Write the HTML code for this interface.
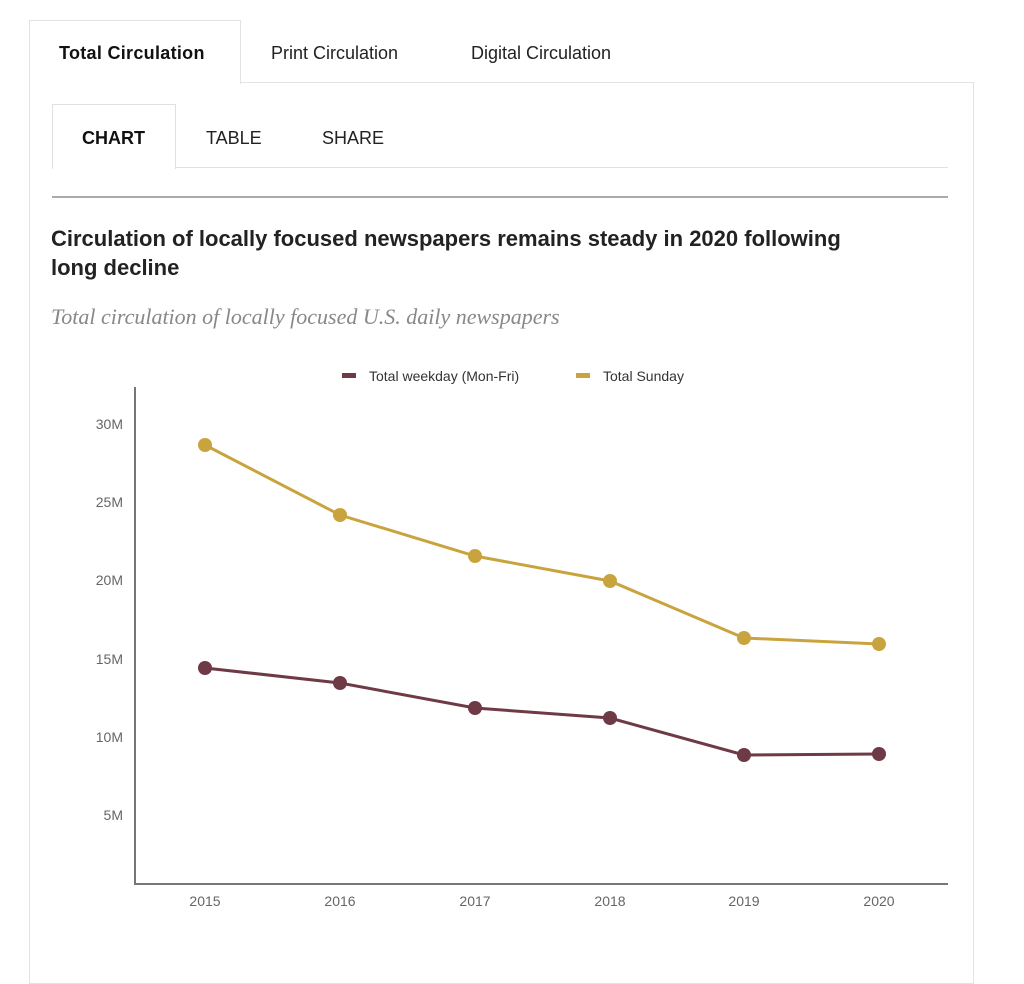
<!DOCTYPE html>
<html><head><meta charset="utf-8"><style>
body{margin:0;width:1024px;height:957px;background:#fff;font-family:"Liberation Sans",sans-serif;position:relative;overflow:hidden}
.a{position:absolute}
</style></head><body>
<div class="a" style="left:29px;top:82px;width:943px;height:900px;border:1px solid #e3e3e3"></div>
<div class="a" style="left:29px;top:20px;width:210px;height:63px;border:1px solid #e3e3e3;border-bottom:none;background:#fff"></div>
<div class="a" style="left:59px;top:43px;font-size:18px;font-weight:bold;color:#111;letter-spacing:0.3px">Total Circulation</div>
<div class="a" style="left:271px;top:43px;font-size:18px;color:#222">Print Circulation</div>
<div class="a" style="left:471px;top:43px;font-size:18px;color:#222">Digital Circulation</div>
<div class="a" style="left:52px;top:167px;width:896px;border-top:1px solid #e0e0e0"></div>
<div class="a" style="left:52px;top:104px;width:122px;height:64px;border:1px solid #e0e0e0;border-bottom:none;background:#fff"></div>
<div class="a" style="left:82px;top:128px;font-size:18px;font-weight:bold;color:#111">CHART</div>
<div class="a" style="left:206px;top:128px;font-size:18px;color:#222">TABLE</div>
<div class="a" style="left:322px;top:128px;font-size:18px;color:#222">SHARE</div>
<div class="a" style="left:52px;top:196px;width:896px;border-top:2px solid #aaa"></div>
<div class="a" style="left:51px;top:224px;width:830px;font-size:22px;font-weight:bold;color:#222;line-height:29px">Circulation of locally focused newspapers remains steady in 2020 following long decline</div>
<div class="a" style="left:51px;top:304px;font-family:'Liberation Serif',serif;font-style:italic;font-size:22px;color:#888">Total circulation of locally focused U.S. daily newspapers</div>
<svg class="a" style="left:0;top:0" width="1024" height="957" font-family="Liberation Sans, sans-serif">
<rect x="342" y="373" width="14" height="5" fill="#6e3a45"/>
<text x="369" y="381" font-size="14" fill="#333">Total weekday (Mon-Fri)</text>
<rect x="576" y="373" width="14" height="5" fill="#c9a43e"/>
<text x="603" y="381" font-size="14" fill="#333">Total Sunday</text>
<line x1="135" y1="387" x2="135" y2="885" stroke="#777" stroke-width="2"/>
<line x1="134" y1="884" x2="948" y2="884" stroke="#777" stroke-width="2"/>
<g font-size="14" fill="#666" text-anchor="end">
<text x="123" y="429">30M</text><text x="123" y="507">25M</text><text x="123" y="585">20M</text>
<text x="123" y="664">15M</text><text x="123" y="742">10M</text><text x="123" y="820">5M</text></g>
<g font-size="14" fill="#666" text-anchor="middle">
<text x="205" y="906">2015</text><text x="340" y="906">2016</text><text x="475" y="906">2017</text>
<text x="610" y="906">2018</text><text x="744" y="906">2019</text><text x="879" y="906">2020</text></g>
<polyline points="205,445 340,515 475,556 610,581 744,638 879,644" fill="none" stroke="#c9a43e" stroke-width="3"/>
<g fill="#c9a43e"><circle cx="205" cy="445" r="7"/><circle cx="340" cy="515" r="7"/><circle cx="475" cy="556" r="7"/><circle cx="610" cy="581" r="7"/><circle cx="744" cy="638" r="7"/><circle cx="879" cy="644" r="7"/></g>
<polyline points="205,668 340,683 475,708 610,718 744,755 879,754" fill="none" stroke="#6e3a45" stroke-width="3"/>
<g fill="#6e3a45"><circle cx="205" cy="668" r="7"/><circle cx="340" cy="683" r="7"/><circle cx="475" cy="708" r="7"/><circle cx="610" cy="718" r="7"/><circle cx="744" cy="755" r="7"/><circle cx="879" cy="754" r="7"/></g>
</svg>
</body></html>
